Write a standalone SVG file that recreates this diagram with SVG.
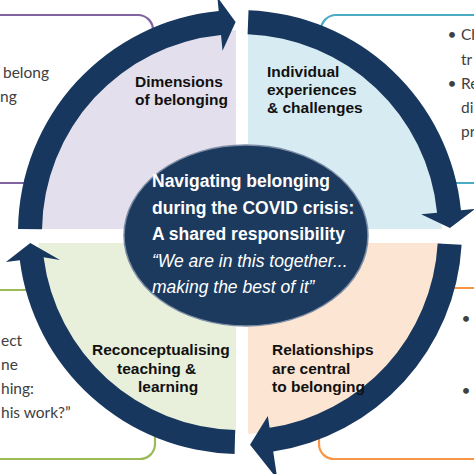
<svg xmlns="http://www.w3.org/2000/svg" width="474" height="474" viewBox="0 0 474 474">
<style>
.box{fill:#fff;stroke-width:2.2}
.bt{font-family:Lato,"Open Sans",sans-serif;font-size:15.5px;fill:#404040}
.ql{font-family:"Liberation Sans",Arial,sans-serif;font-size:15.5px;font-weight:bold;fill:#111}
.ct{font-family:"Liberation Sans",Arial,sans-serif;font-size:17.5px;font-weight:bold;fill:#fff}
.ci{font-family:"Liberation Sans",Arial,sans-serif;font-size:17.5px;font-style:italic;fill:#fff}
.arrow{fill:#17375E}
</style>
<defs>
<clipPath id="disc"><circle cx="240" cy="232" r="202"/></clipPath>
</defs>
<rect width="474" height="474" fill="#fff"/>
<g id="box-top-left">
<rect class="box" x="-20" y="15" width="173" height="168" rx="15" stroke="#8064A2"/>
<text class="bt" x="3" y="78">belong</text>
<text class="bt" x="0" y="102">ng</text>
</g>
<g id="box-top-right">
<rect class="box" x="321" y="15" width="200" height="168" rx="15" stroke="#4BACC6"/>
<text class="bt" x="452" y="40" text-anchor="middle">•</text>
<text class="bt" x="461" y="40">Ch</text>
<text class="bt" x="461" y="65">tr</text>
<text class="bt" x="452" y="89" text-anchor="middle">•</text>
<text class="bt" x="461" y="89">Re</text>
<text class="bt" x="461" y="113">di</text>
<text class="bt" x="461" y="137">pr</text>
</g>
<g id="box-bottom-left">
<rect class="box" x="-20" y="290" width="175" height="169" rx="15" stroke="#9BBB59"/>
<text class="bt" x="1" y="346">ect</text>
<text class="bt" x="1" y="370">ne</text>
<text class="bt" x="1" y="394">hing:</text>
<text class="bt" x="1" y="418">his work?”</text>
</g>
<g id="box-bottom-right">
<rect class="box" x="319" y="288" width="200" height="171" rx="15" stroke="#F79646"/>
<text class="bt" x="466" y="324" text-anchor="middle">•</text>
<text class="bt" x="466" y="396" text-anchor="middle">•</text>
</g>
<g id="quadrants" clip-path="url(#disc)">
<rect id="q-dimensions-bg" x="0" y="0" width="236" height="229" fill="#E4DFEC"/>
<rect id="q-individual-bg" x="248" y="0" width="226" height="229" fill="#D7EBF3"/>
<rect id="q-reconcept-bg" x="0" y="243" width="236" height="231" fill="#E8EFDB"/>
<rect id="q-relationships-bg" x="248" y="243" width="226" height="231" fill="#FCE5D2"/>
</g>
<g id="connectors">
<path class="arrow" d="M18.02,228.9 A222,222 0 0 1 218.72,11.02 L217.38,-2.91 L235.6,22.05 L222.56,50.84 L221.02,34.91 A198,198 0 0 0 42.02,229.24 Z"/>
<path class="arrow" d="M248.52,10.16 A222,222 0 0 1 460.94,210.34 L474.87,208.97 L449.96,227.97 L421.13,214.24 L437.06,212.68 A198,198 0 0 0 247.6,34.15 Z"/>
<path class="arrow" d="M461.63,244.78 A222,222 0 0 1 273.2,451.5 L277.39,479.19 L250.03,444.76 L267.81,415.91 L269.61,427.77 A198,198 0 0 0 437.67,243.4 Z"/>
<path class="arrow" d="M234.58,453.93 A222,222 0 0 1 19.8,260.21 L5.91,261.99 L30.29,242.99 L60,260 L43.61,257.16 A198,198 0 0 0 235.16,429.94 Z"/>
</g>
<g id="q-dimensions">
<text class="ql" x="135" y="87">Dimensions</text>
<text class="ql" x="135" y="105">of belonging</text>
</g>
<g id="q-individual">
<text class="ql" x="267" y="77">Individual</text>
<text class="ql" x="267" y="95">experiences</text>
<text class="ql" x="267" y="113">&amp; challenges</text>
</g>
<g id="q-reconcept">
<text class="ql" x="92" y="355">Reconceptualising</text>
<text class="ql" x="117" y="373.5">teaching &amp;</text>
<text class="ql" x="138" y="392">learning</text>
</g>
<g id="q-relationships">
<text class="ql" x="272" y="355">Relationships</text>
<text class="ql" x="272" y="373.5">are central</text>
<text class="ql" x="272" y="392">to belonging</text>
</g>
<g id="center">
<ellipse cx="246" cy="235.5" rx="122" ry="90.5" fill="#1C3A5E" stroke="#7D8DA5" stroke-width="1.5"/>
<text class="ct" x="152" y="186.5">Navigating belonging</text>
<text class="ct" x="152" y="213.5">during the COVID crisis:</text>
<text class="ct" x="152" y="240">A shared responsibility</text>
<text class="ci" x="152" y="266.5">“We are in this together...</text>
<text class="ci" x="152" y="293">making the best of it”</text>
</g>
</svg>
